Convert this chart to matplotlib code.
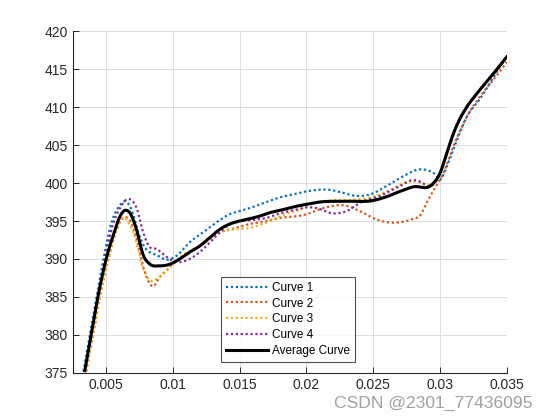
import numpy as np
import matplotlib.pyplot as plt

# values
x_avg = [0.0034, 0.0039, 0.0044, 0.005, 0.0056, 0.006, 0.0064, 0.0068, 0.0072, 0.0078,
         0.00825, 0.009, 0.00975, 0.0105, 0.01125, 0.012, 0.01275, 0.0135, 0.01425, 0.015,
         0.01575, 0.0165, 0.01725, 0.018, 0.019, 0.020, 0.021, 0.023, 0.025, 0.026,
         0.027, 0.028, 0.0294, 0.030, 0.0305, 0.031, 0.0315, 0.032, 0.0325, 0.033,
         0.034, 0.035]
y_avg = [375.3, 380.3, 385.2, 390.0, 393.5, 395.5, 396.4, 396.0, 394.3, 390.4,
         389.35, 389.1, 389.3, 390.0, 390.9, 391.7, 392.8, 393.9, 394.6, 395.0,
         395.3, 395.65, 396.1, 396.4, 396.85, 397.2, 397.5, 397.6, 397.7, 398.2,
         398.9, 399.5, 399.8, 401.3, 403.9, 406.5, 408.5, 410.0, 411.2, 412.3,
         414.4, 416.6]

x1 = [0.0033, 0.0038, 0.0043, 0.0048, 0.0054, 0.006, 0.0064, 0.0069, 0.0074, 0.0078,
      0.0088, 0.0096, 0.01025, 0.01125, 0.01225, 0.01325, 0.01425, 0.015, 0.01575, 0.017,
      0.018, 0.019, 0.020, 0.02175, 0.02275, 0.02375, 0.02475, 0.026, 0.02725, 0.0285,
      0.029, 0.02975, 0.0299, 0.0306, 0.03125, 0.032, 0.033, 0.034, 0.035]
y1 = [375.2, 380.3, 385.1, 390.0, 394.8, 397.0, 397.6, 396.5, 393.5, 391.8,
      390.5, 389.9, 390.4, 392.2, 393.5, 394.8, 395.9, 396.3, 396.7, 397.5,
      398.1, 398.5, 398.9, 399.1, 398.7, 398.3, 398.5, 399.6, 400.9, 401.8,
      401.7, 400.9, 400.5, 402.6, 405.6, 408.7, 411.1, 413.9, 416.8]

x2 = [0.0035, 0.00405, 0.00455, 0.00517, 0.0058, 0.0064, 0.0068, 0.0073, 0.0078, 0.0085,
      0.009, 0.00975, 0.0105, 0.012, 0.0135, 0.0145, 0.01575, 0.017, 0.018, 0.0195,
      0.020, 0.02125, 0.023, 0.024, 0.02525, 0.02625, 0.028, 0.0285, 0.029, 0.0294,
      0.03025, 0.031, 0.032, 0.033, 0.034, 0.035]
y2 = [375.2, 380.3, 385.1, 390.0, 394.0, 395.5, 395.0, 392.5, 388.8, 386.4,
      387.6, 388.9, 390.1, 391.7, 393.5, 394.0, 394.6, 395.0, 395.4, 395.7,
      395.9, 396.7, 397.0, 396.3, 395.2, 394.8, 395.3, 395.7, 397.4, 398.7,
      401.3, 404.8, 408.7, 411.4, 413.6, 415.9]

x3 = [0.0035, 0.00405, 0.00455, 0.00517, 0.0058, 0.0062, 0.0066, 0.0072, 0.0077, 0.0082,
      0.009, 0.00975, 0.0105, 0.012, 0.0135, 0.0145, 0.01575, 0.017, 0.018, 0.01875,
      0.0195, 0.020, 0.02175, 0.0235, 0.025, 0.02625, 0.0275, 0.02825, 0.029, 0.0295,
      0.030, 0.0305, 0.031, 0.0315, 0.032, 0.033, 0.034, 0.035]
y3 = [375.2, 380.3, 385.1, 390.0, 394.0, 395.4, 395.0, 392.6, 389.1, 387.3,
      387.7, 388.9, 390.2, 391.7, 393.5, 393.9, 394.1, 394.8, 395.6, 396.1,
      396.5, 397.0, 397.7, 397.8, 398.2, 399.1, 400.1, 400.2, 399.8, 399.9,
      401.4, 404.0, 406.6, 408.6, 410.1, 412.4, 414.5, 416.7]

x4 = [0.0034, 0.0039, 0.0044, 0.0049, 0.0055, 0.006, 0.00667, 0.0073, 0.0077, 0.0082,
      0.0088, 0.0093, 0.00975, 0.0104, 0.011, 0.012, 0.013, 0.01375, 0.0145, 0.01575,
      0.017, 0.018, 0.0195, 0.020, 0.02075, 0.022, 0.023, 0.024, 0.0255, 0.027,
      0.028, 0.0285, 0.02913, 0.0295, 0.030, 0.0305, 0.031, 0.032, 0.033, 0.034,
      0.035]
y4 = [375.2, 380.3, 385.2, 390.0, 394.5, 396.6, 397.9, 396.6, 393.9, 391.7,
      391.3, 390.6, 390.0, 389.6, 389.8, 390.9, 392.6, 393.9, 394.8, 395.1,
      395.4, 396.0, 396.6, 396.8, 396.7, 396.0, 396.3, 397.4, 398.3, 399.6,
      400.4, 400.2, 399.6, 399.8, 401.3, 403.9, 406.5, 410.0, 412.3, 414.4,
      416.7]

series = [(x1, y1, 'Curve 1', '#0072BD'),
          (x2, y2, 'Curve 2', '#D95319'),
          (x3, y3, 'Curve 3', '#EDB120'),
          (x4, y4, 'Curve 4', '#7E2F8E')]


def smooth(xs, ys, n=600):
    # cubic hermite through the read points, slopes from np.gradient
    xs = np.asarray(xs, float)
    ys = np.asarray(ys, float)
    m = np.gradient(ys, xs)
    xx = np.linspace(xs[0], xs[-1], n)
    idx = np.clip(np.searchsorted(xs, xx) - 1, 0, len(xs) - 2)
    hh = xs[idx + 1] - xs[idx]
    t = (xx - xs[idx]) / hh
    h00 = 2 * t**3 - 3 * t**2 + 1
    h10 = t**3 - 2 * t**2 + t
    h01 = -2 * t**3 + 3 * t**2
    h11 = t**3 - t**2
    yy = h00 * ys[idx] + h10 * hh * m[idx] + h01 * ys[idx + 1] + h11 * hh * m[idx + 1]
    return xx, yy


plt.rcParams['font.family'] = ['Liberation Sans', 'DejaVu Sans']
fig = plt.figure(figsize=(5.6, 4.2), dpi=100)
ax = fig.add_axes([0.13, 0.112, 0.775, 0.814])

for xs, ys, name, col in series:
    xx, yy = smooth(xs, ys)
    ax.plot(xx, yy, linestyle=(0, (1, 1.2)), color=col, linewidth=1.6, label=name)
xx, yy = smooth(x_avg, y_avg)
ax.plot(xx, yy, color='black', linewidth=2.2, label='Average Curve')

ax.set_xlim(0.0025, 0.035)
ax.set_ylim(375, 420)
ax.set_xticks([0.005, 0.01, 0.015, 0.02, 0.025, 0.03, 0.035])
ax.set_xticklabels(['0.005', '0.01', '0.015', '0.02', '0.025', '0.03', '0.035'])
ax.set_yticks(np.arange(375, 421, 5))
ax.grid(True, color='#dcdcdc', linewidth=0.7)
ax.set_axisbelow(True)
ax.spines['top'].set_visible(False)
ax.spines['right'].set_visible(False)
for s in ['left', 'bottom']:
    ax.spines[s].set_color('#262626')
    ax.spines[s].set_linewidth(0.8)
ax.tick_params(direction='in', length=4, width=0.7, labelsize=10,
               colors='#262626', labelcolor='#262626')

leg = ax.legend(loc='lower left', bbox_to_anchor=(0.342, 0.033), fontsize=8.5,
                frameon=True, fancybox=False, edgecolor='#262626',
                handlelength=3.6, handletextpad=0.3, borderpad=0.4,
                labelspacing=0.32, borderaxespad=0)
leg.get_frame().set_linewidth(0.8)

fig.text(0.95, 0.022, 'CSDN @2301_77436095', ha='right', va='bottom',
         fontsize=12.6, color='#a0a0a0')

fig.savefig('out.png', dpi=100)
